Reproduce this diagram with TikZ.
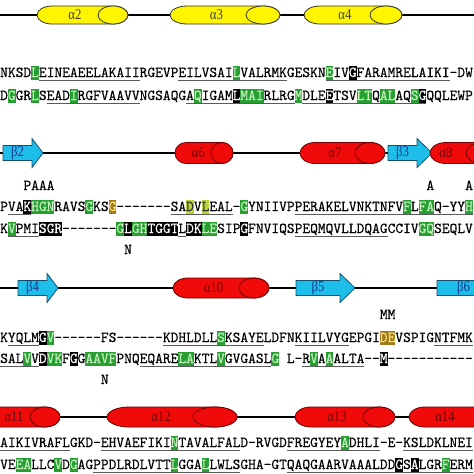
\documentclass[tikz,border=0pt]{standalone}
\usepackage{fontspec}
\usepackage{xcolor}
\newfontfamily\seqfont{lmmono10-regular.otf}[FakeStretch=0.971,FakeBold=0.25,Ligatures=TeXOff]
\newfontfamily\labfont{Liberation Serif}[FakeStretch=0.85]

\definecolor{hlgreen}{RGB}{38,158,48}
\definecolor{hlgreentxt}{RGB}{196,240,190}
\definecolor{hllime}{RGB}{184,212,60}
\definecolor{hlgold}{RGB}{160,120,30}
\definecolor{hlgoldtxt}{RGB}{255,226,110}
\definecolor{helixyellow}{RGB}{255,245,0}
\definecolor{helixred}{RGB}{240,10,10}
\definecolor{helixredline}{RGB}{110,0,0}
\definecolor{strandcyan}{RGB}{30,190,235}
\definecolor{strandline}{RGB}{20,80,110}
\definecolor{strandtxt}{RGB}{25,55,140}
\definecolor{ulgray}{RGB}{90,90,90}

% residue highlights and underlines
\newcommand{\hlstrut}{\rule[-2.6pt]{0pt}{13.2pt}}
\newcommand{\hg}[1]{{\fboxsep=0pt\colorbox{hlgreen}{\hlstrut\textcolor{hlgreentxt}{#1}}}}
\newcommand{\hk}[1]{{\fboxsep=0pt\colorbox{black}{\hlstrut\textcolor{white}{#1}}}}
\newcommand{\hd}[1]{{\fboxsep=0pt\colorbox{hlgold}{\hlstrut\textcolor{hlgoldtxt}{#1}}}}
\newcommand{\hy}[1]{{\fboxsep=0pt\colorbox{hllime}{\hlstrut\textcolor{black!80}{#1}}}}
\newsavebox{\undbox}
\newcommand{\und}[1]{\sbox{\undbox}{#1}\rlap{\textcolor{ulgray}{\rule[-3.4pt]{\wd\undbox}{0.8pt}}}\usebox{\undbox}}

% secondary structure elements
% #1 name, #2 x1, #3 x2, #4 y, #5 rx, #6 ry, #7 style, #8 label
\newcommand{\helix}[8]{%
  \draw[#7] (#2+#5,#4-#6) -- (#3-#5,#4-#6)
    arc[start angle=-90, end angle=90, x radius=#5, y radius=#6]
    -- (#2+#5,#4+#6)
    arc[start angle=90, end angle=270, x radius=#5, y radius=#6] -- cycle;
  \draw[#7] (#3-#5,#4) ellipse[x radius=#5, y radius=#6];
  \node[hlabel] (#1) at ({(#2+#3-#5)/2},#4) {#8};
}
% #1 name, #2 x1, #3 head start, #4 tip, #5 y, #6 label
\newcommand{\strand}[6]{%
  \draw[sarrow] (#2,#5-7.5) -- (#3,#5-7.5) -- (#3,#5-14.5) -- (#4,#5)
    -- (#3,#5+14.5) -- (#3,#5+7.5) -- (#2,#5+7.5) -- cycle;
  \node[slabel] (#1) at ({(#2+#3)/2},#5) {#6};
}

\begin{document}
\begin{tikzpicture}[x=1pt, y=-1pt,
  every node/.style={inner sep=0pt},
  seq/.style={anchor=base west, font={\seqfont\fontsize{15.2pt}{18pt}\selectfont}},
  annot/.style={anchor=base west, font={\seqfont\fontsize{15.2pt}{18pt}\selectfont}},
  backbone/.style={line width=1.6pt},
  yhelix/.style={fill=helixyellow, draw=black!80, line width=0.8pt},
  rhelix/.style={fill=helixred, draw=helixredline, line width=0.8pt},
  sarrow/.style={fill=strandcyan, draw=strandline, line width=0.8pt},
  hlabel/.style={font={\labfont\fontsize{15pt}{17pt}\selectfont}, text=black!75},
  slabel/.style={font={\labfont\fontsize{15pt}{17pt}\selectfont}, text=strandtxt}
]
  \useasboundingbox (0,0) rectangle (474,474);
  \fill[white] (0,0) rectangle (474,474);

  % block 1
  \coordinate (b1l) at (0,15);  \coordinate (b1r) at (474,15);
  \draw[backbone] (b1l) -- (b1r);
  \helix{a2}{37}{128}{15}{15}{9}{yhelix}{α2}
  \helix{a3}{170}{280}{15}{17}{9}{yhelix}{α3}
  \helix{a4}{304}{402}{15}{16}{9}{yhelix}{α4}
  \node[seq] (s1a) at (0,77) {NKSD\hg{L}\und{EINEAEELAKAII}RGEVP\und{EILVSAI\hg{L}VALRMK}GESKN\und{\hg{E}IV\hk{G}FARAMRELAIKI}-DW};
  \node[seq] (s1b) at (0,100) {D\hg{G}GR\hg{L}S\und{EAD\hg{I}RGFVAAVV}NGSAQG\und{A\hg{Q}IGAM\hk{L}\hg{MAI}RLRG}\hg{M}\und{DLE\hk{E}TSV\hg{LT}Q\hg{AL}AQ\hg{S}\hk{G}}QQLEWP};

  % block 2
  \coordinate (b2l) at (0,153);  \coordinate (b2r) at (474,153);
  \draw[backbone] (b2l) -- (b2r);
  \strand{b2}{3}{32}{43}{153}{β2}
  \helix{a6}{175}{233}{153}{11}{10.5}{rhelix}{\textcolor{helixredline}{α6}}
  \helix{a7}{300}{385}{153}{15}{10.5}{rhelix}{\textcolor{helixredline}{α7}}
  \strand{b3}{388}{417}{432}{153}{β3}
  \helix{a8}{430}{498}{153}{16}{10.5}{rhelix}{}
  \node[hlabel, text=helixredline] (a8l) at (446,153) {α8};
  \node[annot] (m2a) at (3*7.75,190) {PAAA};
  \node[annot] (m2b) at (55*7.75,190) {A};
  \node[annot] (m2c) at (60*7.75,190) {A};
  \node[seq] (s2a) at (0,211) {P\und{VA\hk{K}}\hg{HGN}RAVS\hg{G}KS\hd{G}-------\und{SA\hy{D}V\hy{L}EAL}-\hg{G}YNIIVP\und{PERAKELVNKTN}\und{FV\hg{F}L\hg{FA}Q-YY\hg{H}}};
  \node[seq] (s2b) at (0,233) {K\und{\hg{V}PMI}\hk{SGR}-------\hg{G}\hk{L}\hg{GH}\hk{TGGT}\und{L}\hk{DK}\hg{LE}SIP\hk{G}FNVIQS\und{PEQMQVLLDQAG}CCIV\hg{GQ}SEQLV};
  \node[annot] (m2d) at (16*7.75,254) {N};

  % block 3
  \coordinate (b3l) at (0,288);  \coordinate (b3r) at (474,288);
  \draw[backbone] (b3l) -- (b3r);
  \strand{b4}{18}{47}{58}{288}{β4}
  \helix{a10}{173}{269}{288}{15}{10}{rhelix}{\textcolor{helixredline}{α10}}
  \strand{b5}{296}{340}{355}{288}{β5}
  \strand{b6}{437}{490}{505}{288}{β6}
  \node[annot] (m3a) at (49*7.75,319) {MM};
  \node[seq] (s3a) at (0,342) {K\und{YQLM}\hk{G}\hg{V}------FS------\und{KDHLDLL\hg{S}KSAYE}LDFN\und{KIILVYG}EPGI\hd{DE}VSPIG\und{NTFMK}};
  \node[seq] (s3b) at (0,363) {\und{SAL\hg{V}V}\hk{D}\hg{VK}F\hk{G}G\hg{AAVF}PNQ\und{EQARE\hg{LA}KTL\hg{V}GVGASL}\hg{G}\phantom{L}L-\und{R\hg{V}A\hg{A}ALTA}--\hk{M}-----------};
  \node[annot] (m3b) at (13*7.75,384) {N};

  % block 4
  \coordinate (b4l) at (0,417);  \coordinate (b4r) at (474,417);
  \draw[backbone] (b4l) -- (b4r);
  \helix{a11}{-40}{60}{417}{15}{10}{rhelix}{}
  \node[hlabel, text=helixredline] (a11l) at (14,417) {α11};
  \helix{a12}{107}{237}{417}{22}{10}{rhelix}{\textcolor{helixredline}{α12}}
  \helix{a13}{295}{395}{417}{16}{10}{rhelix}{\textcolor{helixredline}{α13}}
  \helix{a14}{409}{520}{417}{16}{10}{rhelix}{}
  \node[hlabel, text=helixredline] (a14l) at (445,417) {α14};
  \node[seq] (s4a) at (0,447) {\und{AIKIVRAFL}GKD-\und{EHVAEFIKI\hg{N}TAVALFAL}D-RVGD\und{FREGYEY\hg{A}DHLI}-E-\und{KSLDKLNEI}};
  \node[seq] (s4b) at (0,469) {VE\hg{EA}LLC\hg{V}D\hg{G}AG\und{PPDLRDLVTT\hg{L}GGA\hg{L}LWLS}GHA-GT\und{QAQGAARVAAALDD\hk{G}S\hk{A}LGR\hg{F}ERM}};
\end{tikzpicture}
\end{document}
